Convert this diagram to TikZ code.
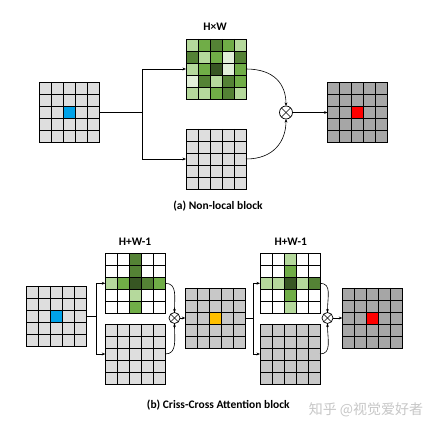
\documentclass[tikz,border=0pt]{standalone}
\usepackage{fontspec}
\setmainfont{Carlito}
\newfontfamily\cjk{Noto Sans CJK SC}
\usetikzlibrary{calc,arrows.meta}
\definecolor{gA}{HTML}{E2F0D9}
\definecolor{gB}{HTML}{B5D99C}
\definecolor{gC}{HTML}{70AD47}
\definecolor{gD}{HTML}{548235}
\definecolor{gE}{HTML}{375623}
\definecolor{grayL}{HTML}{DEDEDE}
\definecolor{grayM}{HTML}{C8C8C8}
\definecolor{grayD}{HTML}{A6A6A6}
\definecolor{cblue}{HTML}{00A2E8}
\definecolor{cyellow}{HTML}{FFC000}
\definecolor{cred}{HTML}{FF0000}
\newcommand{\gridlines}[1]{%
  \foreach \k in {1,2,3,4}{%
    \draw[gline] ($(#1.north west)+(\k*12,0)$) -- ($(#1.south west)+(\k*12,0)$);
    \draw[gline] ($(#1.north west)+(0,\k*12)$) -- ($(#1.north east)+(0,\k*12)$);
  }%
  \draw[gline] (#1.north west) rectangle (#1.south east);
}
\newcommand{\cellc}[4]{\path[fill=#4] ($(#1.north west)+({(#3-1)*12},{(#2-1)*12})$) rectangle ++(12,12);}
\newcommand{\rowc}[3]{\foreach \c [count=\j] in {#3} {\cellc{#1}{#2}{\j}{\c}}}
\newcommand{\colc}[3]{\foreach \c [count=\j] in {#3} {\cellc{#1}{\j}{#2}{\c}}}
\newcommand{\oxsign}[1]{%
  \draw[oxline] (#1.north east) -- (#1.south west);
  \draw[oxline] (#1.north west) -- (#1.south east);
}
\begin{document}
\begin{tikzpicture}[x=1pt,y=-1pt,
  gbox/.style={draw=black, line width=0.8pt, minimum width=60pt, minimum height=60pt, inner sep=0pt, outer sep=0pt, anchor=north west},
  gline/.style={black, line width=0.75pt},
  conn/.style={black, line width=0.6pt},
  arr/.style={conn, -{Stealth[length=3.5pt,width=2.8pt]}},
  oxnode/.style={circle, draw=black, line width=0.7pt, fill=white, inner sep=0pt, outer sep=0pt, minimum size=#1},
  oxline/.style={black, line width=0.6pt},
  lbl/.style={font=\bfseries\fontsize{11.5}{12}\selectfont, inner sep=0pt},
  captxt/.style={font=\bfseries\fontsize{11.5}{13}\selectfont, inner sep=0pt}
]
\fill[white] (0,0) rectangle (432,430);
\useasboundingbox (0,0) rectangle (432,430);

% ---------- (a) ----------
\node[gbox, fill=grayL] (A0) at (39.5,82.5) {};
\cellc{A0}{3}{3}{cblue}
\gridlines{A0}

\node[gbox, fill=white] (A1) at (186,39) {};
\rowc{A1}{1}{gB,gC,gD,gC,gB}
\rowc{A1}{2}{gD,gB,gC,gA,gD}
\rowc{A1}{3}{gB,gC,gE,gA,gC}
\rowc{A1}{4}{gA,gD,gB,gD,gC}
\rowc{A1}{5}{gB,gB,gC,gD,gB}
\gridlines{A1}

\node[gbox, fill=grayL] (A2) at (186,129) {};
\gridlines{A2}

\node[gbox, fill=grayD] (A3) at (327.5,82.5) {};
\cellc{A3}{3}{3}{cred}
\gridlines{A3}

\node[oxnode=13pt] (oxa) at (286,112.5) {};
\oxsign{oxa}

\coordinate (ja) at (142.7,112.5);
\draw[conn] (A0.east) -- (ja);
\draw[arr] (ja) |- (A1.west);
\draw[arr] (ja) |- (A2.west);
\draw[arr] (A1.east) .. controls +(28,0) and +(0,-22) .. (oxa.north);
\draw[arr] (A2.east) .. controls +(28,0) and +(0,22) .. (oxa.south);
\draw[arr] (oxa.east) -- (A3.west);

\node[lbl] (tHW) at (215,26.7) {H×W};
\node[captxt] (capa) at (218,206) {(a) Non-local block};

% ---------- (b) ----------
\node[gbox, fill=grayL] (B0) at (26,286) {};
\cellc{B0}{3}{3}{cblue}
\gridlines{B0}

\node[gbox, fill=white] (B1) at (105.3,253.3) {};
\colc{B1}{3}{gD,gD,gE,gB,gC}
\rowc{B1}{3}{gB,gC,gE,gD,gC}
\gridlines{B1}

\node[gbox, fill=grayL] (B2) at (105.3,324) {};
\gridlines{B2}

\node[gbox, fill=grayM] (B3) at (185.3,288) {};
\cellc{B3}{3}{3}{cyellow}
\gridlines{B3}

\node[gbox, fill=white] (B4) at (260,253.3) {};
\colc{B4}{3}{gB,gC,gE,gC,gB}
\rowc{B4}{3}{gB,gB,gE,gB,gD}
\gridlines{B4}

\node[gbox, fill=grayM] (B5) at (260,324) {};
\gridlines{B5}

\node[gbox, fill=grayD] (B6) at (342.3,288) {};
\cellc{B6}{3}{3}{cred}
\gridlines{B6}

\node[oxnode=11pt] (ox1) at (174.5,318) {};
\oxsign{ox1}
\node[oxnode=11pt] (ox2) at (327.5,318) {};
\oxsign{ox2}

\coordinate (jb1) at (96,316);
\draw[conn] (B0.east) -- (jb1);
\draw[arr] (jb1) |- (B1.west);
\draw[arr] (jb1) |- (B2.west);
\draw[arr] (B1.east) .. controls +(12,0) and +(0,-16) .. (ox1.north);
\draw[arr] (B2.east) .. controls +(12,0) and +(0,16) .. (ox1.south);
\draw[arr] (ox1.east) -- (ox1.east -| B3.west);

\coordinate (jb2) at (253.3,318);
\draw[conn] (B3.east) -- (jb2);
\draw[arr] (jb2) |- (B4.west);
\draw[arr] (jb2) |- (B5.west);
\draw[arr] (B4.east) .. controls +(12,0) and +(0,-16) .. (ox2.north);
\draw[arr] (B5.east) .. controls +(12,0) and +(0,16) .. (ox2.south);
\draw[arr] (ox2.east) -- (ox2.east -| B6.west);

\node[lbl] (tHW1) at (135,241.7) {H+W-1};
\node[lbl] (tHW2) at (290.7,241.7) {H+W-1};
\node[captxt] (capb) at (218.3,405.3) {(b) Criss-Cross Attention block};
\node[font=\cjk\fontsize{14}{14}\selectfont, text=black!22, inner sep=0pt] (wm) at (366,410) {知乎 @视觉爱好者};
\end{tikzpicture}
\end{document}
